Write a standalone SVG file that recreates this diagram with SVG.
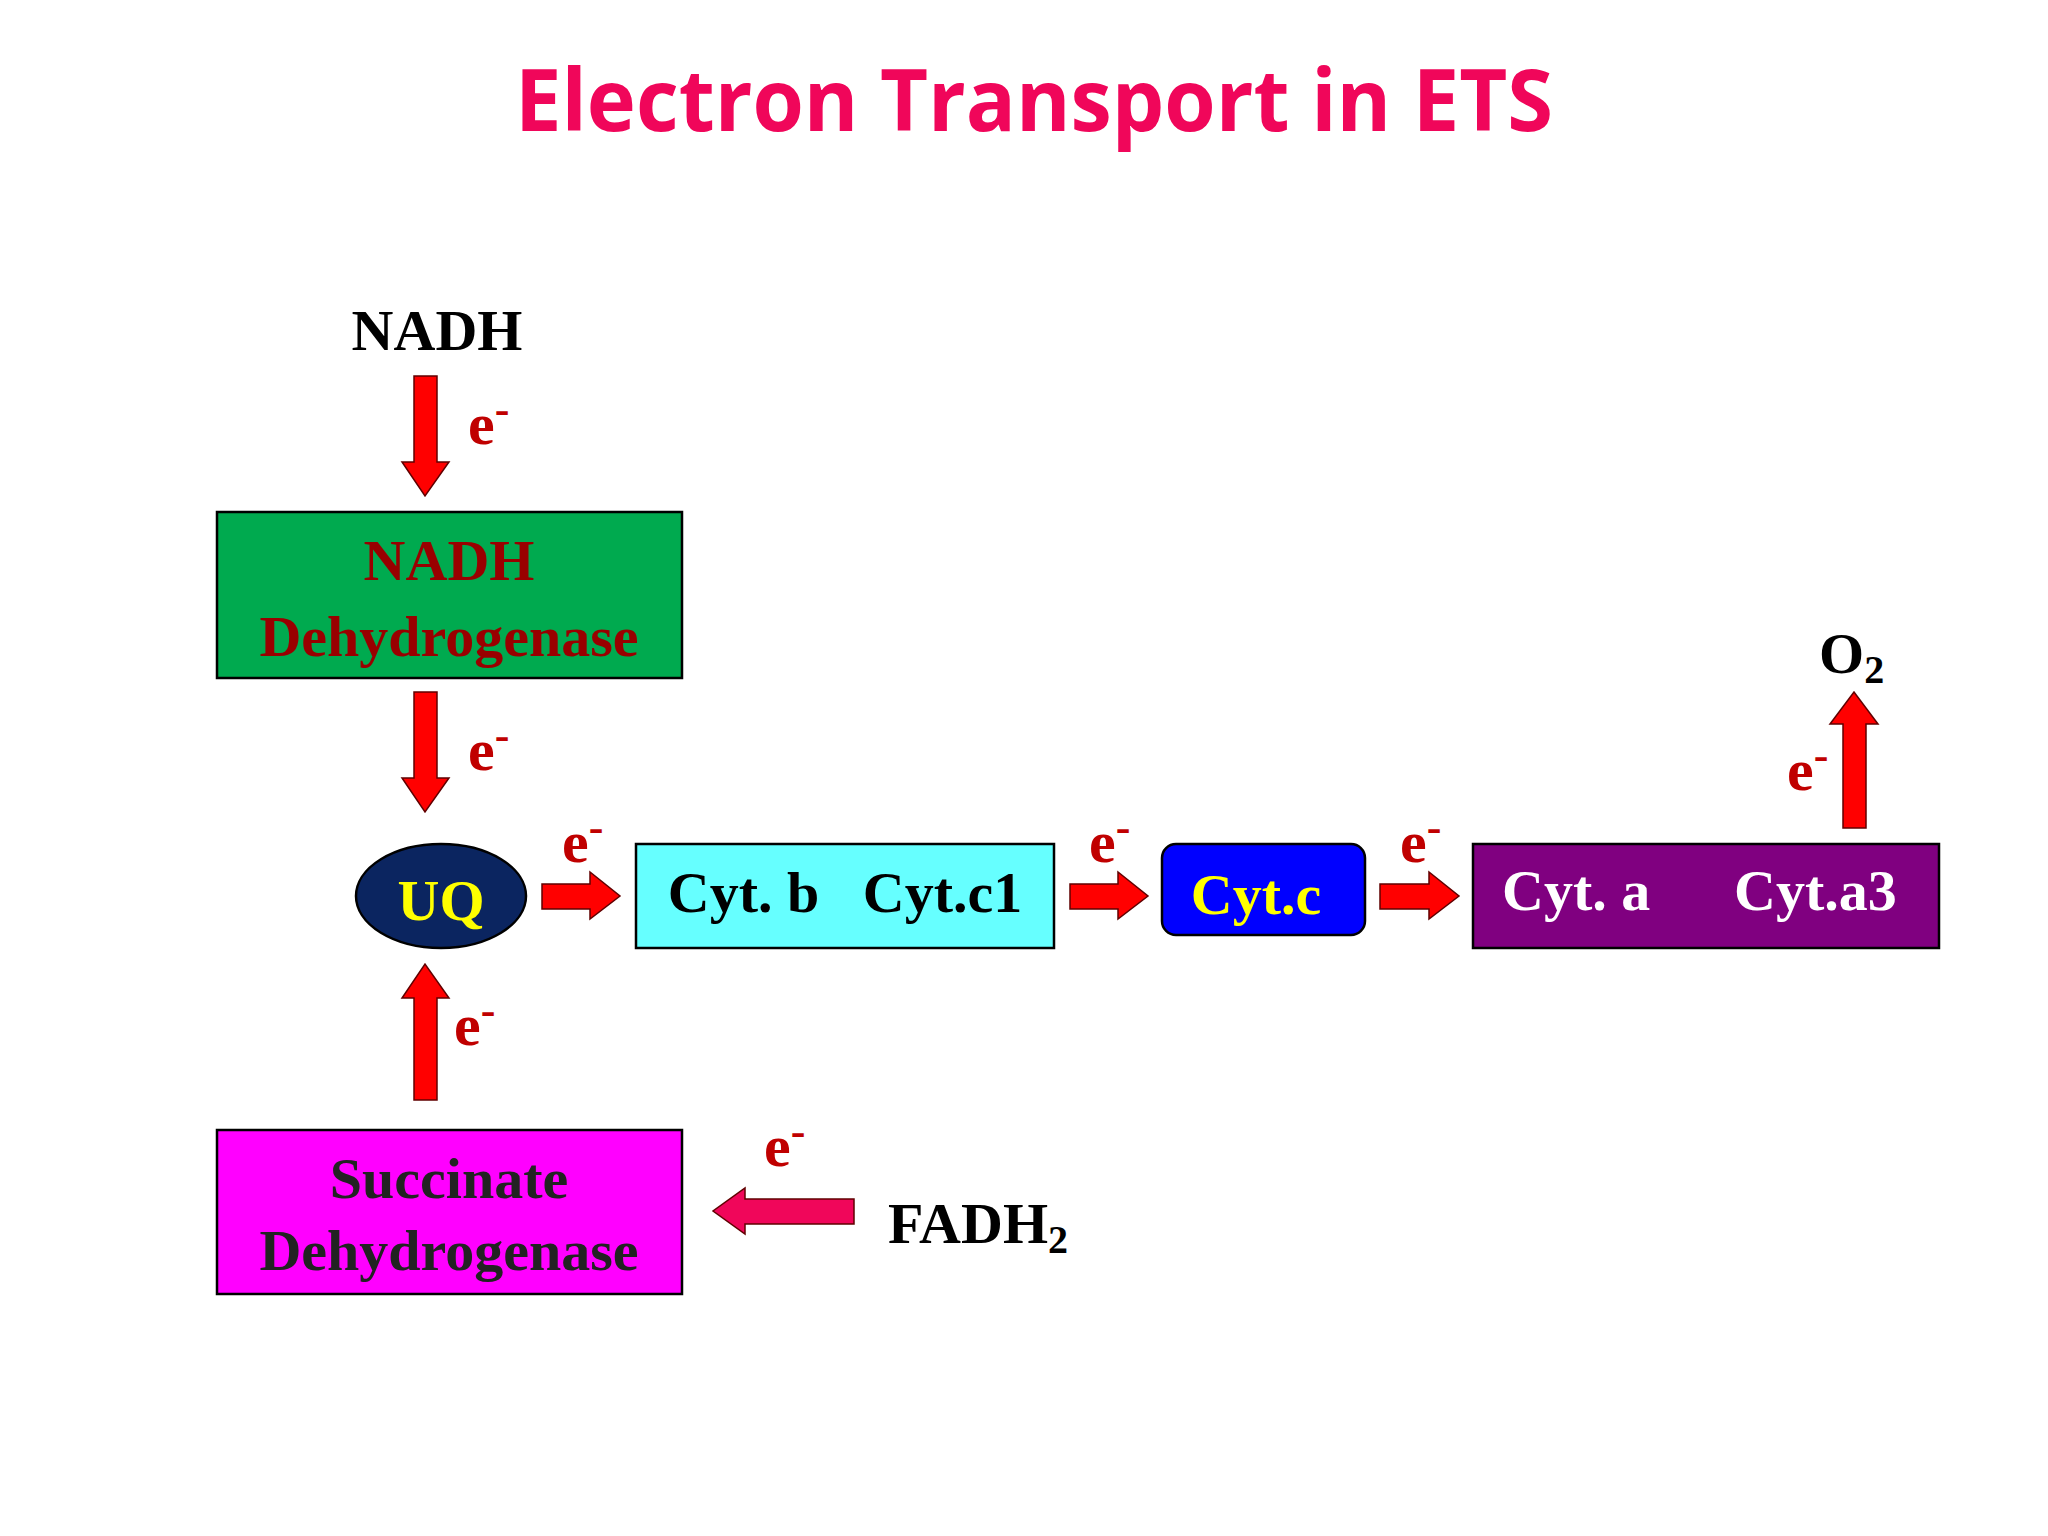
<svg xmlns="http://www.w3.org/2000/svg" width="2048" height="1536" viewBox="0 0 2048 1536">
<style>
.t{font-family:"Liberation Serif","Times New Roman",serif;font-weight:bold;font-size:58px}
.e{font-family:"Liberation Serif",serif;font-weight:bold;font-size:60px;fill:#C00000}
.box{stroke:#000;stroke-width:2.5}
.ar{fill:#FF0000;stroke:#600000;stroke-width:1.5}
</style>
<rect width="2048" height="1536" fill="#fff"/>
<text x="1034" y="131" text-anchor="middle" font-family="'Open Sans','Liberation Sans',sans-serif" font-weight="bold" font-size="86" fill="#F0065A" textLength="1038" lengthAdjust="spacingAndGlyphs">Electron Transport in ETS</text>

<g id="nadh"><text class="t" x="437" y="350" text-anchor="middle">NADH</text></g>
<g id="nadh-dh"><rect class="box" x="217" y="512" width="465" height="166" fill="#00AA4F"/>
<text class="t" x="449" y="580" text-anchor="middle" fill="#990000">NADH</text>
<text class="t" x="449" y="656" text-anchor="middle" fill="#990000">Dehydrogenase</text></g>
<g id="uq"><ellipse cx="441" cy="896" rx="85" ry="52" fill="#0B2560" stroke="#000" stroke-width="2.5"/>
<text class="t" x="441" y="920" text-anchor="middle" fill="#FFFF00" font-size="46">UQ</text></g>
<g id="sdh"><rect class="box" x="217" y="1130" width="465" height="164" fill="#FF00FF"/>
<text class="t" x="449" y="1198" text-anchor="middle" fill="#222">Succinate</text>
<text class="t" x="449" y="1270" text-anchor="middle" fill="#222">Dehydrogenase</text></g>
<g id="fadh2"><text class="t" x="888" y="1243">FADH<tspan font-size="40" dy="10">2</tspan></text></g>
<g id="cytb"><rect class="box" x="636" y="844" width="418" height="104" fill="#66FFFF"/>
<text class="t" x="845" y="912" text-anchor="middle" xml:space="preserve">Cyt. b   Cyt.c1</text></g>
<g id="cytc"><rect class="box" x="1162" y="844" width="203" height="91" rx="14" fill="#0000FF"/>
<text class="t" x="1256" y="914" text-anchor="middle" fill="#FFFF00">Cyt.c</text></g>
<g id="cyta"><rect class="box" x="1473" y="844" width="466" height="104" fill="#800080"/>
<text class="t" x="1502" y="910" fill="#fff">Cyt. a</text>
<text class="t" x="1734" y="910" fill="#fff">Cyt.a3</text></g>
<g id="o2"><text class="t" x="1819" y="673">O<tspan font-size="40" dy="10">2</tspan></text></g>

<g id="connectors">
<polygon class="ar" points="414,376 437,376 437,462 449,462 425,496 402,462 414,462"/>
<polygon class="ar" points="414,692 437,692 437,778 449,778 425,812 402,778 414,778"/>
<polygon class="ar" points="414,1100 437,1100 437,998 449,998 425,964 402,998 414,998"/>
<polygon class="ar" points="542,884 590,884 590,872 620,896 590,919 590,909 542,909"/>
<polygon class="ar" points="1070,884 1118,884 1118,872 1148,896 1118,919 1118,909 1070,909"/>
<polygon class="ar" points="1380,884 1429,884 1429,872 1459,896 1429,919 1429,909 1380,909"/>
<polygon class="ar" points="1843,828 1866,828 1866,724 1878,724 1854,692 1830,724 1843,724"/>
<polygon points="854,1199 854,1224 745,1224 745,1234 713,1211 745,1188 745,1199" fill="#F0065A" stroke="#600000" stroke-width="1.5"/>
<text class="e" x="468" y="444">e<tspan dy="-20" font-size="44">-</tspan></text>
<text class="e" x="468" y="770">e<tspan dy="-20" font-size="44">-</tspan></text>
<text class="e" x="454" y="1045">e<tspan dy="-20" font-size="44">-</tspan></text>
<text class="e" x="562" y="862">e<tspan dy="-20" font-size="44">-</tspan></text>
<text class="e" x="1089" y="862">e<tspan dy="-20" font-size="44">-</tspan></text>
<text class="e" x="1400" y="862">e<tspan dy="-20" font-size="44">-</tspan></text>
<text class="e" x="1787" y="790">e<tspan dy="-20" font-size="44">-</tspan></text>
<text class="e" x="764" y="1166">e<tspan dy="-20" font-size="44">-</tspan></text>
</g>
</svg>
